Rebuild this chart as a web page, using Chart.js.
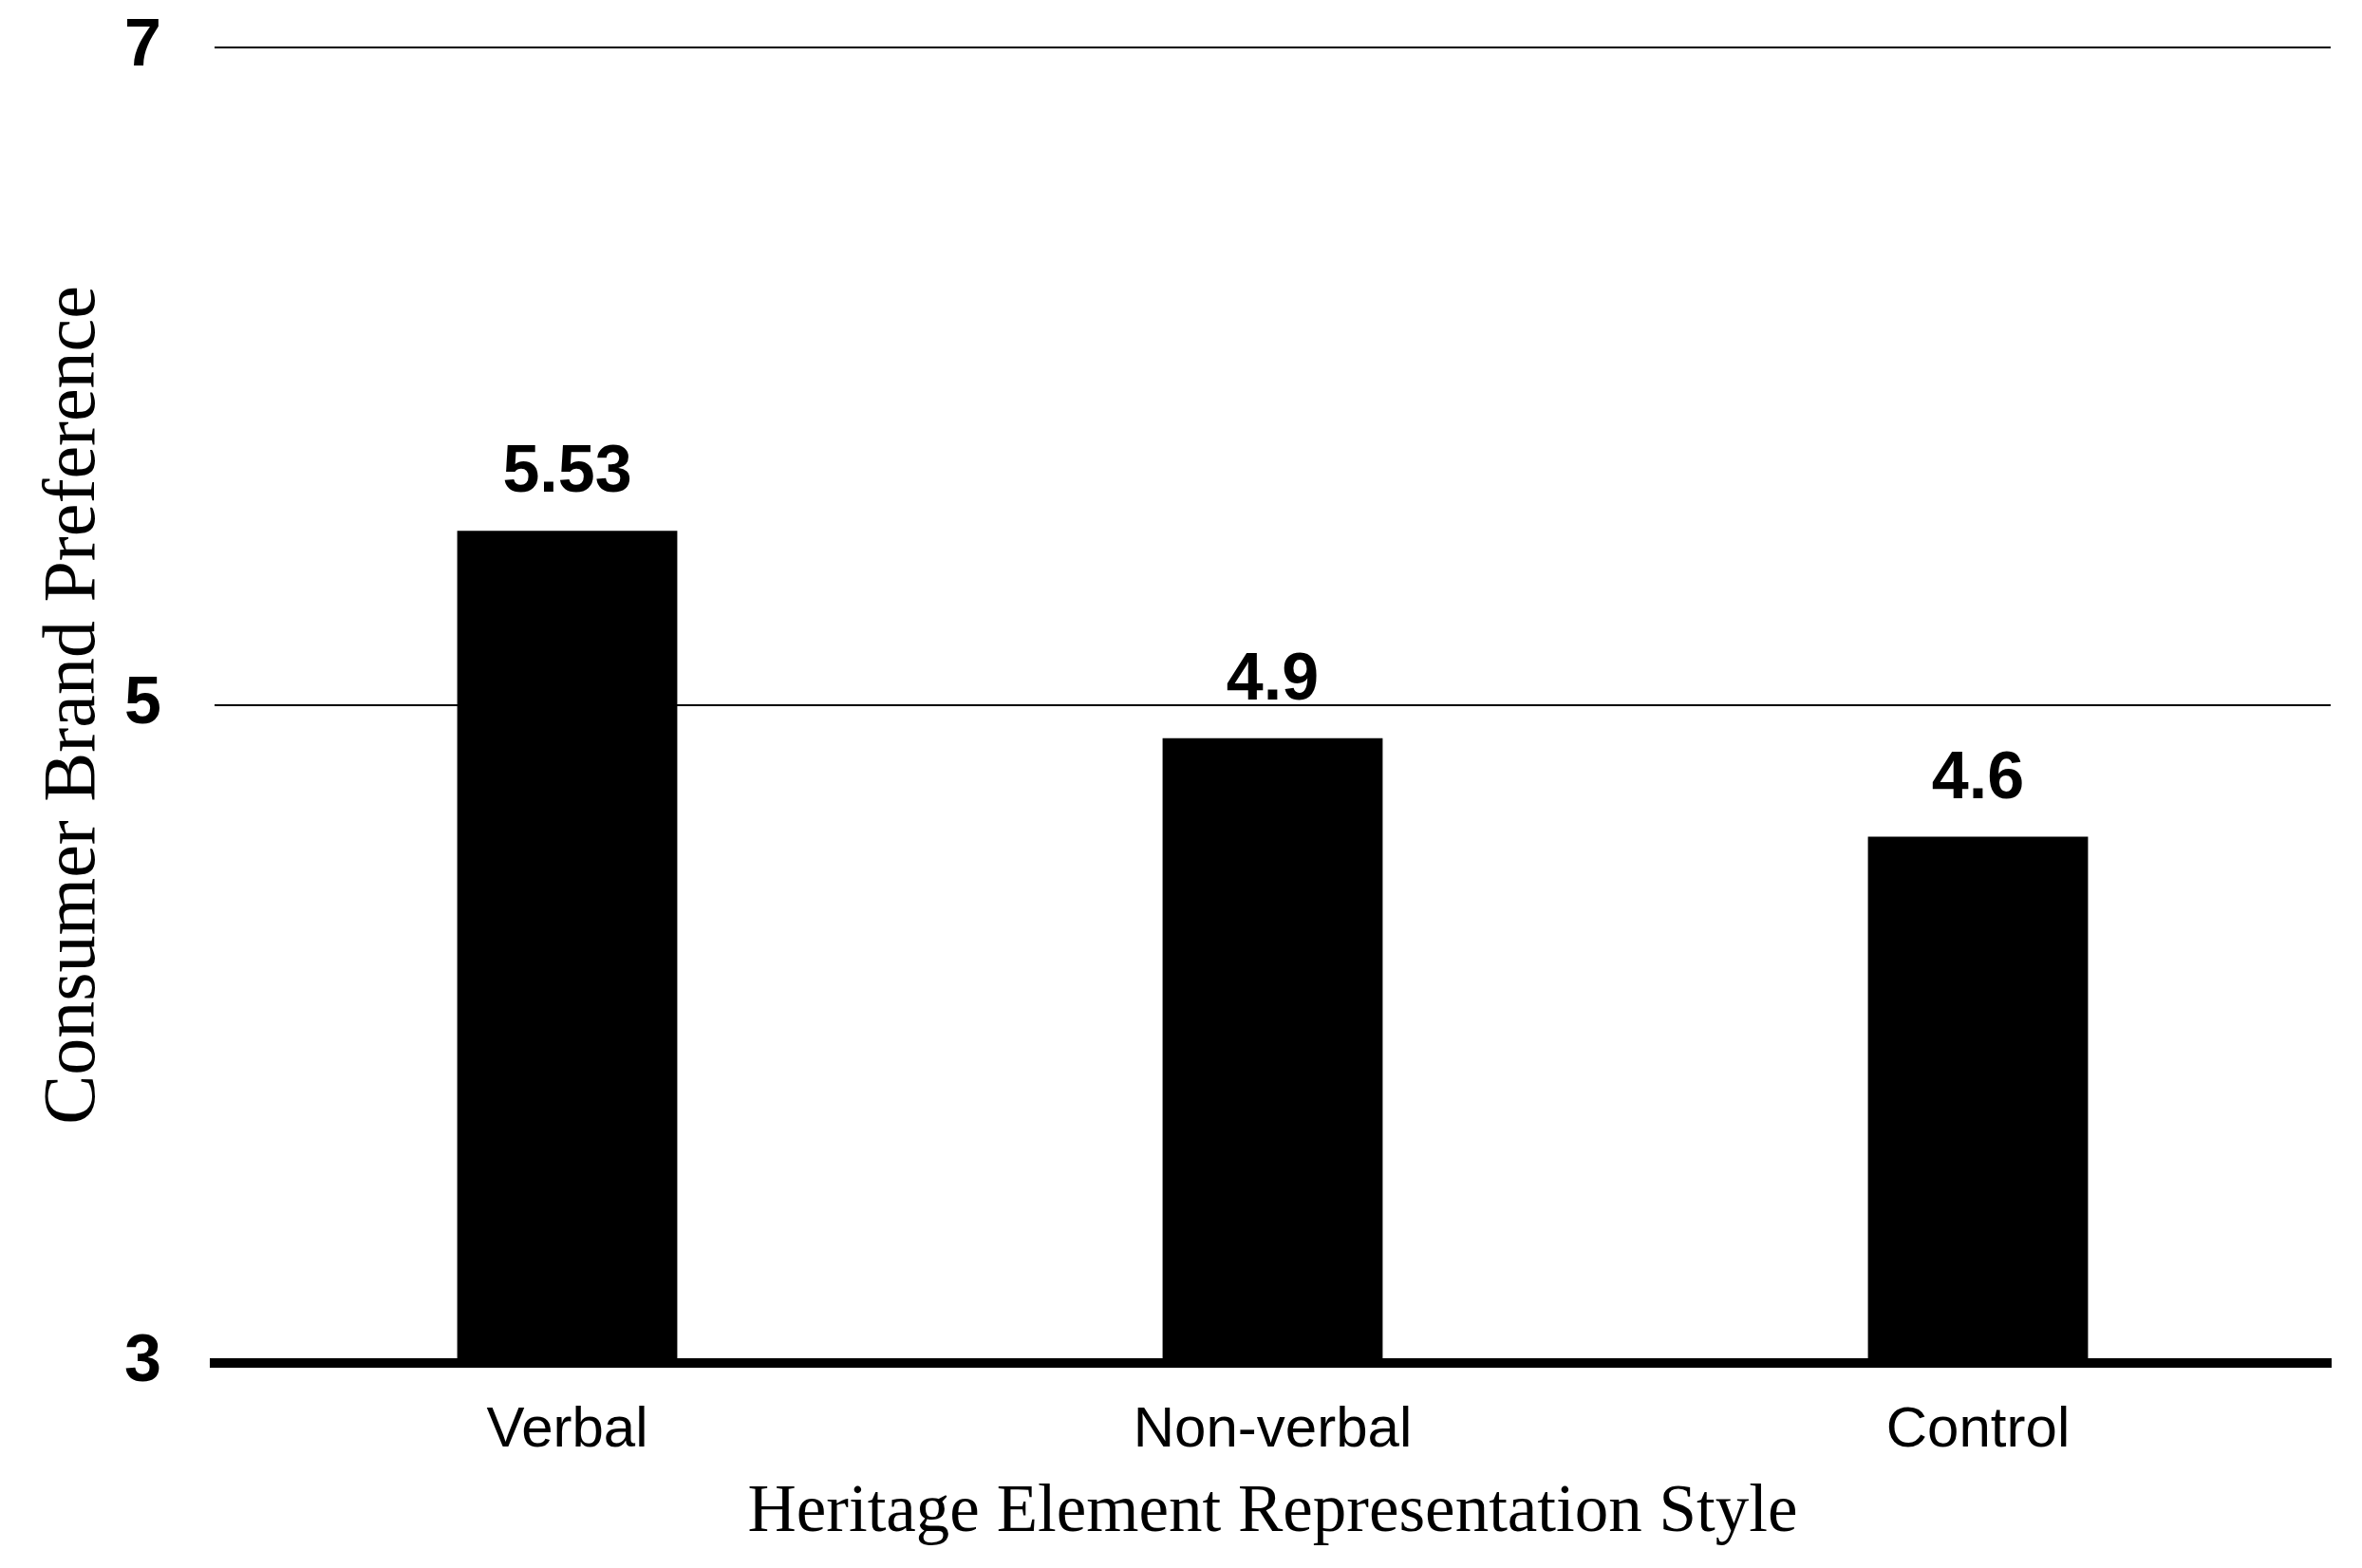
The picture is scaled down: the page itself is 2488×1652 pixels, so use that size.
<!DOCTYPE html>
<html>
<head>
<meta charset="utf-8">
<title>Consumer Brand Preference</title>
<script src="https://cdn.jsdelivr.net/npm/chart.js@4.4.1/dist/chart.umd.min.js"></script>
<style>
  html, body { margin: 0; padding: 0; background: #fff; }
  #wrap { width: 2488px; height: 1652px; position: relative; }
</style>
</head>
<body>
<div id="wrap"><canvas id="chart"></canvas></div>
<script>
// ---- data ----
const categories = ['Verbal', 'Non-verbal', 'Control'];
const preference = [5.53, 4.9, 4.6];
const valueLabels = ['5.53', '4.9', '4.6'];
const yTicks = [3, 5, 7];

// draws the number above every bar
const barValues = {
  id: 'barValues',
  afterDatasetsDraw(chart) {
    const ctx = chart.ctx;
    const meta = chart.getDatasetMeta(0);
    ctx.save();
    ctx.fillStyle = '#000';
    ctx.font = 'bold 70px "Liberation Sans", Arial, sans-serif';
    ctx.textAlign = 'center';
    ctx.textBaseline = 'alphabetic';
    meta.data.forEach((bar, i) => {
      ctx.fillText(valueLabels[i], bar.x, bar.y - 41);
    });
    ctx.restore();
  }
};

new Chart(document.getElementById('chart'), {
  type: 'bar',
  data: {
    labels: categories,
    datasets: [{
      data: preference,
      backgroundColor: '#000',
      borderWidth: 0,
      barPercentage: 0.312,
      categoryPercentage: 1
    }]
  },
  options: {
    responsive: true,
    maintainAspectRatio: false,
    animation: false,
    layout: { padding: { top: 50, right: 33, bottom: 0, left: 0 } },
    plugins: {
      legend: { display: false },
      tooltip: { enabled: false }
    },
    scales: {
      x: {
        grid: { display: false },
        border: { display: true, color: '#000', width: 10 },
        ticks: {
          color: '#000',
          padding: 27,
          font: { family: '"Liberation Sans", Arial, sans-serif', size: 60 }
        },
        title: {
          display: true,
          text: 'Heritage Element Representation Style',
          color: '#000',
          padding: { top: 0, bottom: 15 },
          font: { family: '"Liberation Serif", "Times New Roman", serif', size: 71 }
        },
        afterFit(scale) { scale.height = 216; }
      },
      y: {
        min: 3,
        max: 7,
        afterBuildTicks(scale) { scale.ticks = yTicks.map(v => ({ value: v })); },
        grid: { color: '#000', lineWidth: 2, drawTicks: false },
        border: { display: false },
        ticks: {
          color: '#000',
          padding: 56,
          font: { family: '"Liberation Sans", Arial, sans-serif', size: 70, weight: 'bold' }
        },
        title: {
          display: true,
          text: 'Consumer Brand Preference',
          color: '#000',
          padding: { top: 32, bottom: 0 },
          font: { family: '"Liberation Serif", "Times New Roman", serif', size: 78 }
        },
        afterFit(scale) {
          scale.width = 226;
          scale.paddingTop = 0;
          scale.paddingBottom = 0;
        }
      }
    }
  },
  plugins: [barValues]
});
</script>
</body>
</html>
